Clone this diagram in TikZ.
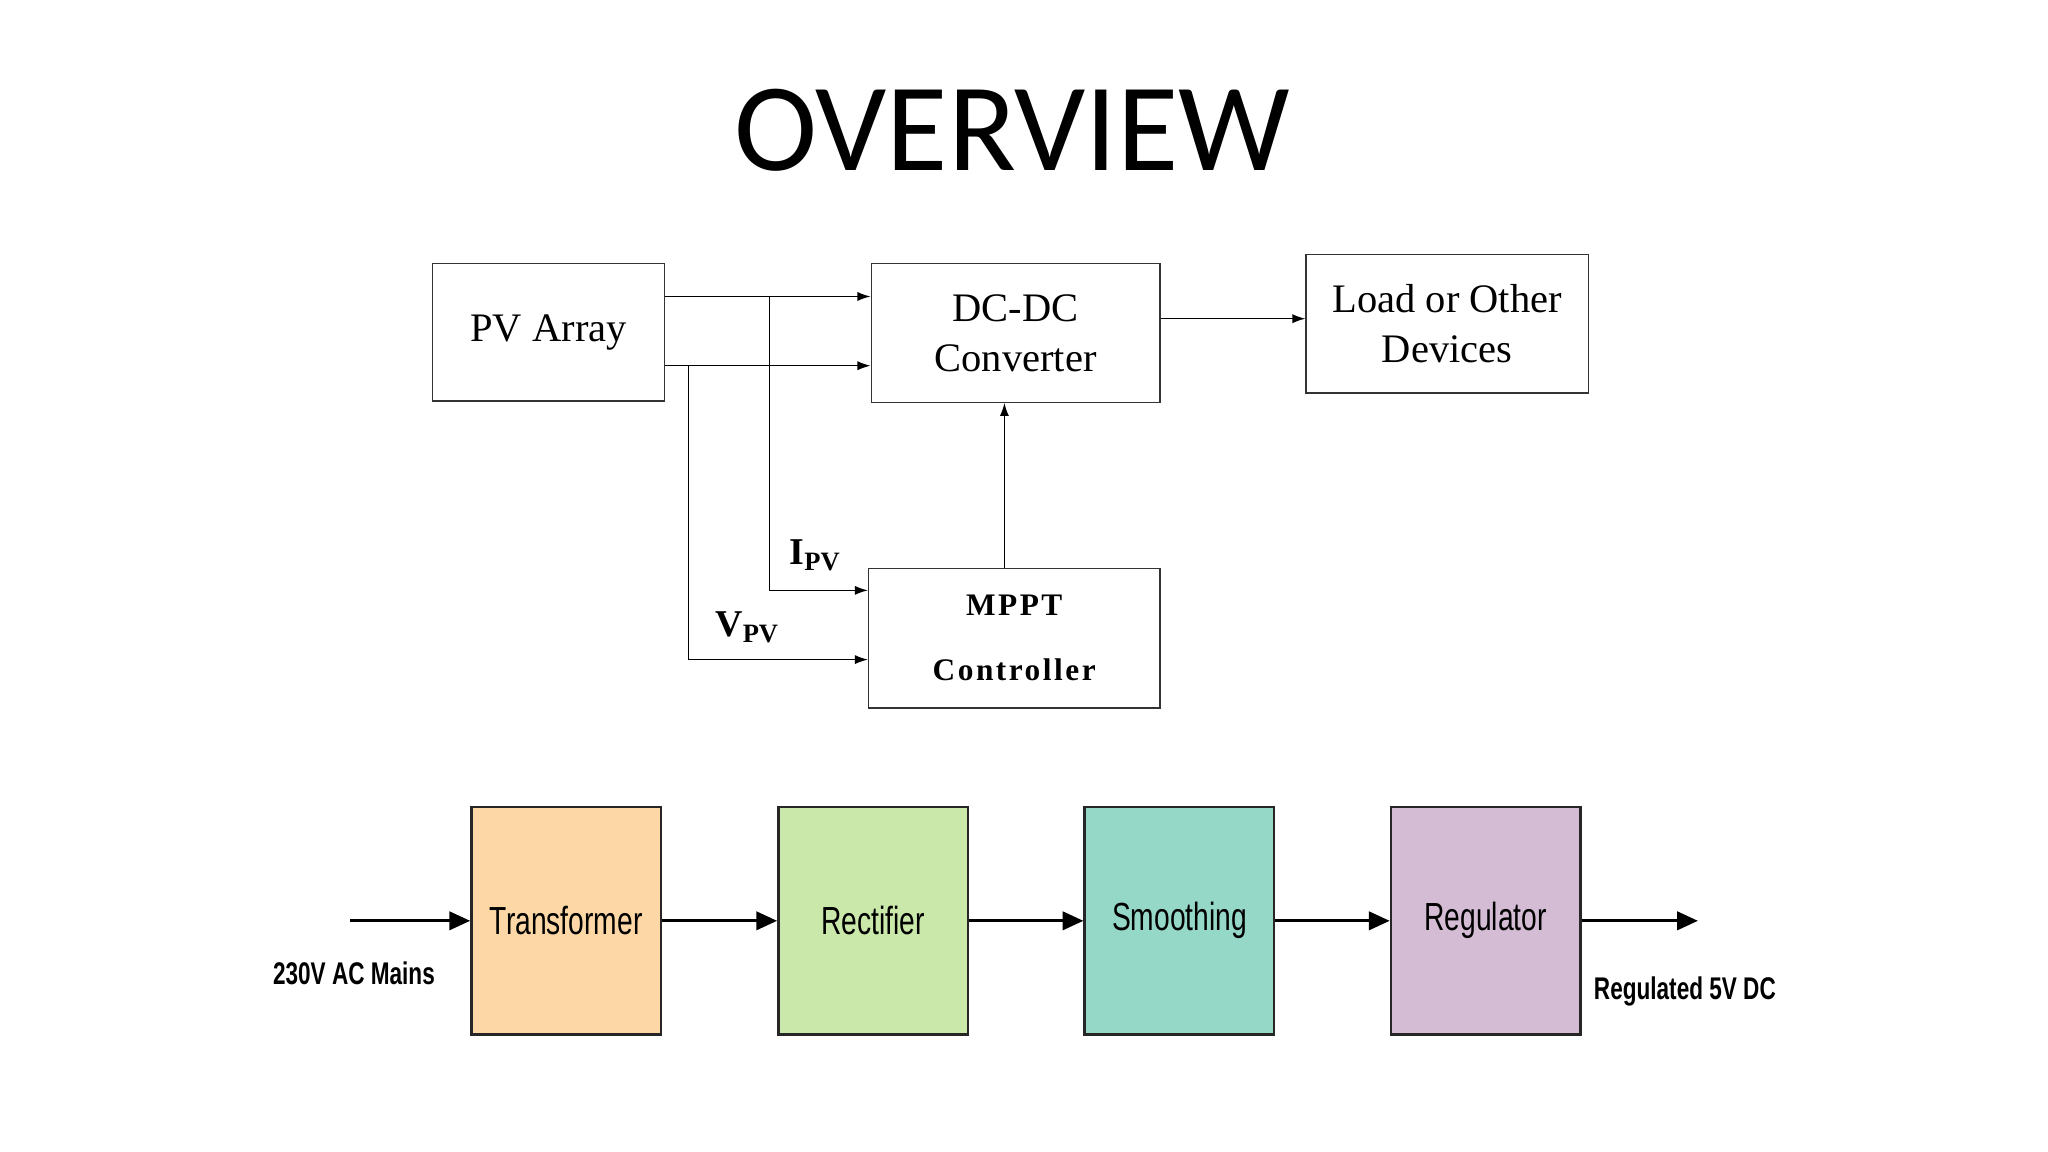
\documentclass[tikz,border=0pt]{standalone}
\usepackage{fontspec}
\setmainfont{Liberation Serif}
\newfontfamily\titlefont{Carlito}
\newfontfamily\narrowfont{Liberation Sans}
\usetikzlibrary{arrows.meta}
\begin{document}
\begin{tikzpicture}[x=1pt,y=-1pt,
  box/.style={draw=black!80,line width=1pt,minimum width=#1,align=center,inner sep=0pt},
  pv/.style={font=\fontsize{31}{36}\selectfont},
  arr/.style={-{Latex[length=10pt,width=7pt]},line width=1pt},
  cbox/.style={draw=black!85,line width=2pt,minimum width=145pt,minimum height=174pt,inner sep=0pt},
  carr/.style={-{Triangle[length=16pt,width=14pt]},line width=2.5pt},
  ctext/.style={font=\narrowfont\fontsize{30}{32}\selectfont,xscale=0.72}]
\useasboundingbox (0,0) rectangle (1568,882);
\fill[white] (0,0) rectangle (1568,882);
\node[font=\titlefont\fontsize{96}{100}\selectfont] (title) at (775,100) {OVERVIEW};
% PV system
\node[box=178pt,minimum height=105pt,pv] (pv) at (420,254.5) {PV Array};
\node[box=221pt,minimum height=106pt,pv] (dc) at (777.5,255) {DC-DC\\[2pt]Converter};
\node[box=216pt,minimum height=106pt,pv] (load) at (1108,248) {Load or Other\\[2pt]Devices};
\node[box=223pt,minimum height=107pt,font=\fontsize{24}{30}\selectfont\bfseries] (mppt) at (776.5,488.5) {\addfontfeatures{LetterSpace=8}MPPT\\[20pt]\addfontfeatures{LetterSpace=8}Controller};
\coordinate (a1) at (589,227);
\coordinate (a2) at (527,280);
\draw[arr] (pv.east |- a1) -- (dc.west |- a1);
\draw[arr] (pv.east |- a2) -- (dc.west |- a2);
\draw[arr] (a1) |- (mppt.west |- 0,452) coordinate (m1);
\draw[arr] (a2) |- (mppt.west |- 0,505) coordinate (m2);
\node[font=\fontsize{29}{30}\selectfont\bfseries] (ipv) at (624,425) {I\textsubscript{PV}};
\node[font=\fontsize{29}{30}\selectfont\bfseries] (vpv) at (572,480) {V\textsubscript{PV}};
\draw[arr] (mppt.north -| 769,0) -- (dc.south -| 769,0);
\draw[arr] (dc.east |- 0,244) -- (load.west |- 0,244);
% power supply
\node[cbox,fill={rgb,255:red,253;green,215;blue,165}] (tr) at (433.5,705) {};
\node[ctext] at (tr) {Transformer};
\node[cbox,fill={rgb,255:red,201;green,232;blue,170}] (re) at (668.5,705) {};
\node[ctext] at (re) {Rectifier};
\node[cbox,fill={rgb,255:red,150;green,216;blue,200}] (sm) at (903,705) {};
\node[ctext] at (sm) {Smoothing};
\node[cbox,fill={rgb,255:red,213;green,188;blue,213}] (rg) at (1137.5,705) {};
\node[ctext] at (rg) {Regulator};
\coordinate (in) at (268,705);
\coordinate (out) at (1300,705);
\draw[carr] (in) -- (tr);
\draw[carr] (tr) -- (re);
\draw[carr] (re) -- (sm);
\draw[carr] (sm) -- (rg);
\draw[carr] (rg) -- (out);
\node[ctext,font=\narrowfont\bfseries\fontsize{24}{28}\selectfont] (inl) at (271,745) {230V AC Mains};
\node[ctext,font=\narrowfont\bfseries\fontsize{24}{28}\selectfont] (outl) at (1290,759) {Regulated 5V DC};
\end{tikzpicture}
\end{document}
